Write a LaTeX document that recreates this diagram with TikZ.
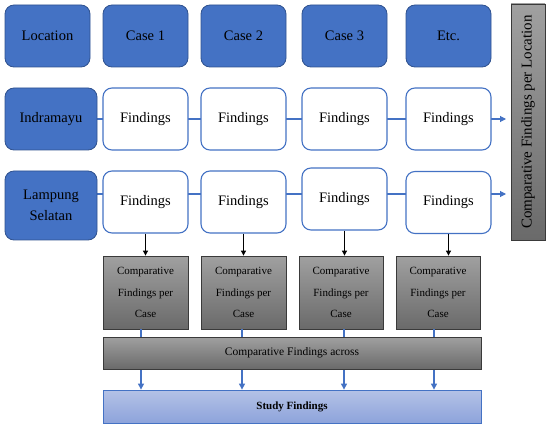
\documentclass[tikz,border=0pt]{standalone}
\usepackage{fontspec}
\setmainfont{Liberation Serif}
\usetikzlibrary{arrows.meta,backgrounds}
\definecolor{hdrblue}{HTML}{4472C4}
\definecolor{hdredge}{HTML}{2F528F}
\definecolor{grayedge}{HTML}{3A3A3A}
\definecolor{graytop}{HTML}{A0A0A0}
\definecolor{graybot}{HTML}{6A6A6A}
\definecolor{studytop}{HTML}{B4C2E6}
\definecolor{studybot}{HTML}{8DA3DB}
\tikzset{
  hdr/.style={draw=hdredge, line width=0.8pt, fill=hdrblue, rounded corners=9pt, minimum width=85pt, minimum height=62pt, font=\fontsize{14.5}{16}\selectfont, align=center, inner sep=0pt},
  find/.style={draw=hdrblue, line width=1.1pt, fill=white, rounded corners=9pt, minimum width=85pt, minimum height=62pt, font=\fontsize{14.5}{16}\selectfont, inner sep=0pt},
  cmp/.style={draw=grayedge, line width=0.8pt, top color=graytop, bottom color=graybot, minimum width=85pt, minimum height=73pt, font=\fontsize{11}{21.5}\selectfont, align=center, inner sep=0pt},
  link/.style={draw=hdrblue, line width=1.1pt},
  blk/.style={draw=black, line width=0.9pt, -{Triangle[width=5pt,length=5pt]}},
  barr/.style={draw=hdrblue, line width=1.1pt, -{Triangle[width=6pt,length=6pt]}}
}
\begin{document}
\begin{tikzpicture}[x=1pt,y=-1pt]
\useasboundingbox (0,0) rectangle (550,428);
% header row
\node[hdr] (loc) at (47.5,36) {Location};
\node[hdr] (c1) at (145.5,36) {Case 1};
\node[hdr] (c2) at (243.5,36) {Case 2};
\node[hdr] (c3) at (344.5,36) {Case 3};
\node[hdr] (c4) at (448.5,36) {Etc.};
% right box
\node[draw=grayedge, line width=0.8pt, top color=graytop, bottom color=graybot, minimum width=34pt, minimum height=236pt, inner sep=0pt] (perloc) at (528,122) {};
\node[rotate=90, font=\fontsize{15}{16}\selectfont] (perloctxt) at (perloc.center) {Comparative Findings per Location};
% row Indramayu
\coordinate (r2) at (0,119);
\coordinate (r2e) at (506,119);
\node[hdr, minimum width=92pt] (ind) at (51,119) {Indramayu};
\node[find] (f21) at (145.5,119) {Findings};
\node[find] (f22) at (243.5,119) {Findings};
\node[find] (f23) at (344.5,119) {Findings};
\node[find] (f24) at (448.5,119) {Findings};
% row Lampung Selatan
\coordinate (r3) at (0,194);
\coordinate (r3e) at (506,194);
\node[hdr, minimum width=92pt, minimum height=69pt, font=\fontsize{14.5}{21}\selectfont] (lam) at (51,205.5) {Lampung\\Selatan};
\node[find] (f31) at (145.5,202) {Findings};
\node[find] (f32) at (243.5,202) {Findings};
\node[find] (f33) at (344.5,199) {Findings};
\node[find] (f34) at (448.5,202.5) {Findings};
\begin{scope}[on background layer]
\draw[link] (ind.east |- r2) -- (f24.east |- r2);
\draw[link] (lam.east |- r3) -- (f34.east |- r3);
\end{scope}
\draw[barr] (f24.east |- r2) -- (r2e);
\draw[barr] (f34.east |- r3) -- (r3e);
% comparative per case
\node[cmp] (g1) at (145.5,292.5) {Comparative\\Findings per\\Case};
\node[cmp] (g2) at (243.5,292.5) {Comparative\\Findings per\\Case};
\node[cmp, minimum width=84pt] (g3) at (341,292.5) {Comparative\\Findings per\\Case};
\node[cmp, minimum width=84pt] (g4) at (438,292.5) {Comparative\\Findings per\\Case};
\draw[blk] (f31.south) -- (f31.south |- g1.north);
\draw[blk] (f32.south) -- (f32.south |- g2.north);
\draw[blk] (f33.south) -- (f33.south |- g3.north);
\draw[blk] (f34.south) -- (f34.south |- g4.north);
% study findings
\node[draw=hdrblue, line width=0.8pt, top color=studytop, bottom color=studybot, minimum width=378pt, minimum height=33pt, inner sep=0pt, font=\fontsize{11}{12}\selectfont\bfseries] (study) at (292,406.5) {Study Findings};
\coordinate (x1) at (141,0);
\coordinate (x2) at (242,0);
\coordinate (x3) at (344,0);
\coordinate (x4) at (434,0);
\draw[barr] (x1 |- g1.south) -- (x1 |- study.north);
\draw[barr] (x2 |- g2.south) -- (x2 |- study.north);
\draw[barr] (x3 |- g3.south) -- (x3 |- study.north);
\draw[barr] (x4 |- g4.south) -- (x4 |- study.north);
\node[draw=grayedge, line width=0.8pt, top color=graytop, bottom color=graybot, minimum width=378pt, minimum height=32pt, inner sep=0pt, font=\fontsize{11.5}{12}\selectfont] (across) at (292,353) {Comparative Findings across};
\end{tikzpicture}
\end{document}
